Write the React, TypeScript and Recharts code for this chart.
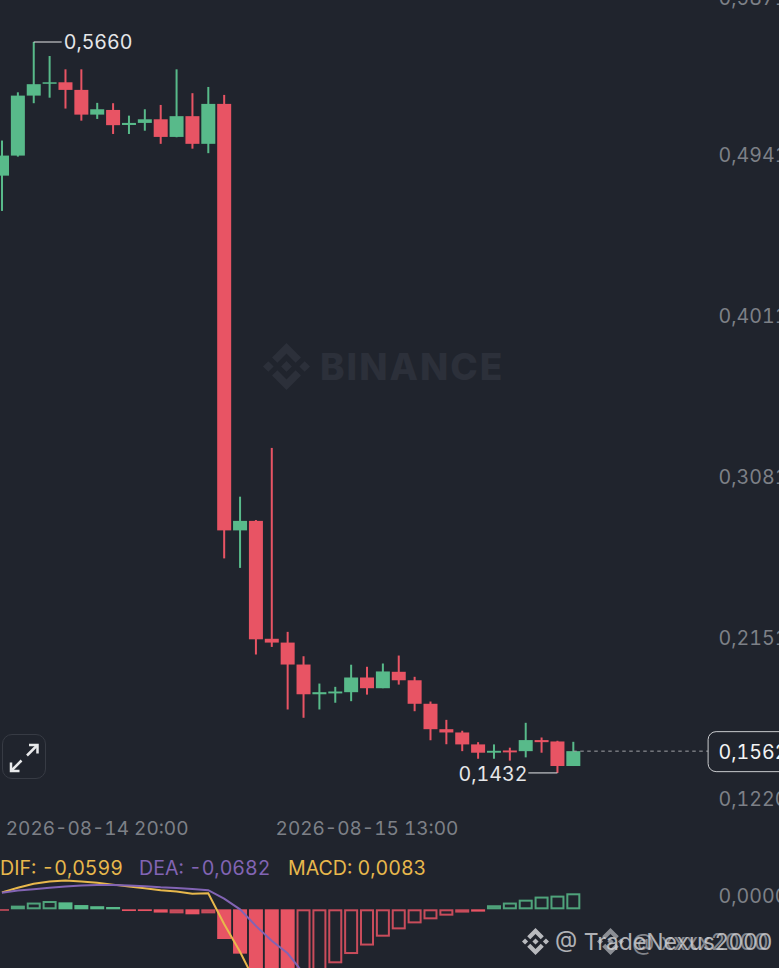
import React from 'react';
import { Bar, ComposedChart, Line, ReferenceDot, ReferenceLine, XAxis, YAxis } from 'recharts';

const times = [
  '2026-08-14 14:00', '2026-08-14 15:00', '2026-08-14 16:00', '2026-08-14 17:00', '2026-08-14 18:00',
  '2026-08-14 19:00', '2026-08-14 20:00', '2026-08-14 21:00', '2026-08-14 22:00', '2026-08-14 23:00',
  '2026-08-15 00:00', '2026-08-15 01:00', '2026-08-15 02:00', '2026-08-15 03:00', '2026-08-15 04:00',
  '2026-08-15 05:00', '2026-08-15 06:00', '2026-08-15 07:00', '2026-08-15 08:00', '2026-08-15 09:00',
  '2026-08-15 10:00', '2026-08-15 11:00', '2026-08-15 12:00', '2026-08-15 13:00', '2026-08-15 14:00',
  '2026-08-15 15:00', '2026-08-15 16:00', '2026-08-15 17:00', '2026-08-15 18:00', '2026-08-15 19:00',
  '2026-08-15 20:00', '2026-08-15 21:00', '2026-08-15 22:00', '2026-08-15 23:00', '2026-08-16 00:00',
  '2026-08-16 01:00', '2026-08-16 02:00', '2026-08-16 03:00', '2026-08-16 04:00', '2026-08-16 05:00',
  '2026-08-16 06:00', '2026-08-16 07:00', '2026-08-16 08:00', '2026-08-16 09:00', '2026-08-16 10:00',
  '2026-08-16 11:00', '2026-08-16 12:00', '2026-08-16 13:00', '2026-08-16 14:00', '2026-08-16 15:00',
];

const opens = [
  0.4887, 0.5003, 0.535, 0.5419, 0.5427, 0.5383, 0.524, 0.5267, 0.518, 0.5192, 0.5213, 0.5111, 0.5231,
  0.5071, 0.5302, 0.2835, 0.289, 0.2208, 0.2186, 0.2059, 0.1887, 0.1892, 0.1899, 0.1984, 0.1922, 0.2017,
  0.1968, 0.1832, 0.1685, 0.1666, 0.1597, 0.1549, 0.1562, 0.1558, 0.1622, 0.1614, 0.1472,
];
const closes = [
  0.5003, 0.535, 0.5416, 0.5427, 0.5383, 0.524, 0.5271, 0.5179, 0.5192, 0.5213, 0.5111, 0.5231, 0.5071,
  0.5302, 0.2835, 0.289, 0.2205, 0.2186, 0.2059, 0.1887, 0.1899, 0.1903, 0.1984, 0.1922, 0.2019, 0.1968,
  0.1832, 0.1685, 0.1666, 0.1597, 0.1549, 0.156, 0.1551, 0.1622, 0.161, 0.1472, 0.1558,
];
const highs = [
  0.509, 0.5369, 0.566, 0.5579, 0.5502, 0.5502, 0.5308, 0.5306, 0.5234, 0.5271, 0.5296, 0.5502, 0.5364,
  0.54, 0.5354, 0.303, 0.2895, 0.3312, 0.2248, 0.2107, 0.1949, 0.193, 0.2058, 0.2046, 0.2065, 0.2111,
  0.1988, 0.1845, 0.1739, 0.1676, 0.161, 0.1597, 0.1578, 0.1722, 0.1637, 0.1618, 0.1612,
];
const lows = [
  0.4683, 0.4997, 0.5306, 0.5338, 0.5275, 0.5205, 0.5215, 0.5128, 0.5128, 0.5147, 0.5071, 0.5109, 0.5043,
  0.5017, 0.2673, 0.2618, 0.2117, 0.2161, 0.1799, 0.1751, 0.1799, 0.1838, 0.1847, 0.1885, 0.1922, 0.1943,
  0.1789, 0.1621, 0.1598, 0.1558, 0.1514, 0.1514, 0.1503, 0.1522, 0.1549, 0.1432, 0.1472,
];

const dif = [
  0.0088, 0.0112, 0.0133, 0.0144, 0.0149, 0.0144, 0.0138, 0.0128, 0.0118, 0.0109, 0.0099, 0.0092, 0.0081,
  0.0083, -0.0076, -0.022, -0.0384, -0.052, -0.063, -0.069, -0.073, -0.075, -0.0745, -0.0735, -0.0725,
  -0.0715, -0.0705, -0.0695, -0.069, -0.0685, -0.068, -0.0668, -0.0655, -0.064, -0.0625, -0.0612, -0.0599,
];
const dea = [
  0.0086, 0.0097, 0.0104, 0.0112, 0.0118, 0.0123, 0.0126, 0.0126, 0.0124, 0.0119, 0.0114, 0.0111, 0.0105,
  0.0099, 0.0055, 0, -0.0086, -0.0163, -0.0228, -0.0332, -0.041, -0.047, -0.052, -0.056, -0.059, -0.062,
  -0.064, -0.066, -0.067, -0.0675, -0.068, -0.0685, -0.069, -0.069, -0.0688, -0.0685, -0.0682,
];
const hist = [
  -0.0007, 0.0019, 0.0035, 0.0043, 0.0036, 0.0022, 0.0016, 0.0012, -0.0009, -0.0009, -0.0017, -0.0021, -0.0026,
  -0.0021, -0.0154, -0.023, -0.035, -0.038, -0.0395, -0.036, -0.032, -0.028, -0.0232, -0.0188, -0.0142, -0.0104,
  -0.0073, -0.0052, -0.0033, -0.0017, -0.0012, 0.0021, 0.0035, 0.005, 0.0066, 0.0071, 0.0083,
];
const histHollow = [
  false, true, true, true, false, false, false, false, false, false, false, true, false,
  true, false, false, false, false, false, true, true, true, true, true, true, true,
  true, true, true, true, false, true, true, true, true, true, true,
];

const priceTicks = [0.122, 0.2151, 0.3081, 0.4011, 0.4941, 0.5871];
const timeTicks = ['2026-08-14 20:00', '2026-08-15 13:00'];
const macdTicks = [0];
const legendItems = [
  { text: 'DIF: -0,0599', color: '#e8b84c', left: 0 },
  { text: 'DEA: -0,0682', color: '#8264b4', left: 139 },
  { text: 'MACD: 0,0083', color: '#e8b84c', left: 288 },
];

const BG = '#20242d';
const GREEN = '#58ba8a';
const RED = '#e85464';
const FONT = 'Inter, sans-serif';
const TEXT_SIZE = 19.6;
const LOGO =
  'M38.73 53.2l24.59-24.58 24.6 24.6 14.3-14.31L63.32 0 24.42 38.9l14.31 14.3z M0 63.31l14.3-14.31 14.31 14.31-14.31 14.3z M38.73 73.41l24.59 24.59 24.6-24.6 14.31 14.29-38.9 38.91-38.91-38.88-.02-.02 14.33-14.29z M98 63.31l14.3-14.31 14.31 14.3-14.31 14.32z M77.83 63.3L63.32 48.78 52.59 59.51l-1.24 1.23-2.54 2.54 14.51 14.5 14.51-14.47z';

// band start sits left of the page so that the first candle is cut off
const CHART_LEFT = -5.6;
const CHART_WIDTH = 793.5;
const LABEL_X = 719 - CHART_LEFT;
const tabular = { fontVariantNumeric: 'tabular-nums' };

const candleRows = times.map((time, i) => ({
  time,
  open: opens[i] ?? null,
  close: closes[i] ?? null,
  high: highs[i] ?? null,
  low: lows[i] ?? null,
}));

const macdRows = times.map((time, i) => ({
  time,
  dif: dif[i] ?? null,
  dea: dea[i] ?? null,
  hist: hist[i] ?? null,
  hollow: histHollow[i] ?? false,
}));

const fmt = (v: number) => v.toFixed(4).replace('.', ',');

const Candle = (props: any) => {
  const { x, y, width, height, payload } = props;
  if (payload.high == null) return null;
  const { open, close, high, low } = payload;
  const color = close >= open ? GREEN : RED;
  const k = height / (high - low);
  const top = y + (high - Math.max(open, close)) * k;
  const h = Math.max(Math.abs(open - close) * k, 1.5);
  return (
    <g>
      <rect x={x + width / 2 - 1} y={y} width={2} height={height} fill={color} />
      <rect x={x} y={top} width={width} height={h} fill={color} />
    </g>
  );
};

const HistBar = (props: any) => {
  const { x, y, width, height, payload } = props;
  if (payload.hist == null) return null;
  const color = payload.hist >= 0 ? GREEN : RED;
  const top = height < 0 ? y + height : y;
  const h = Math.abs(height);
  if (payload.hollow) {
    return (
      <rect x={x + 1} y={top + 1} width={width - 2} height={Math.max(h - 2, 0.5)} fill="none" stroke={color} strokeWidth={2} opacity={0.85} />
    );
  }
  return <rect x={x} y={top} width={width} height={h} fill={color} />;
};

const PriceLabel = (props: any) => {
  const { y, payload } = props;
  return (
    <text x={LABEL_X} y={y - 11} fill="#7d8087" fontSize={TEXT_SIZE} fontFamily={FONT} style={tabular} dominantBaseline="central">
      {fmt(payload.value)}
    </text>
  );
};

const MacdLabel = (props: any) => {
  const { y, payload } = props;
  return (
    <text x={LABEL_X} y={y - 13} fill="#7d8087" fontSize={TEXT_SIZE} fontFamily={FONT} style={tabular} dominantBaseline="central">
      {fmt(payload.value)}
    </text>
  );
};

const TimeLabel = (props: any) => {
  const { x, y, payload } = props;
  return (
    <text x={x} y={y + 10} fill="#7d8087" fontSize={19} fontFamily={FONT} style={tabular} textAnchor="middle" dominantBaseline="central">
      {payload.value}
    </text>
  );
};

const HighMark = (props: any) => {
  const { cx, cy } = props;
  return (
    <g>
      <line x1={cx} y1={cy} x2={cx + 28} y2={cy} stroke="#e6e7e9" strokeWidth={1} />
      <text x={cx + 30} y={cy} fill="#e6e7e9" fontSize={TEXT_SIZE} fontFamily={FONT} style={tabular} dominantBaseline="central">
        0,5660
      </text>
    </g>
  );
};

const LowMark = (props: any) => {
  const { cx, cy } = props;
  return (
    <g>
      <line x1={cx} y1={cy} x2={cx - 29} y2={cy} stroke="#e6e7e9" strokeWidth={1} />
      <text x={cx - 30} y={cy + 1.5} fill="#e6e7e9" fontSize={TEXT_SIZE} fontFamily={FONT} style={tabular} textAnchor="end" dominantBaseline="central">
        0,1432
      </text>
    </g>
  );
};

const LastPrice = (props: any) => {
  const { cy } = props;
  return (
    <g>
      <rect x={LABEL_X - 10.5} y={cy - 19.5} width={120} height={40} rx={8} fill={BG} stroke="#c9cbce" strokeWidth={1} />
      <text x={LABEL_X} y={cy + 1} fill="#f2f3f4" fontSize={TEXT_SIZE} fontFamily={FONT} style={tabular} dominantBaseline="central">
        0,1562
      </text>
    </g>
  );
};

const Logo = ({ x, y, size, fill, opacity }: any) => (
  <svg width={size} height={size} viewBox="0 0 126.61 126.61" style={{ position: 'absolute', left: x, top: y }}>
    <path d={LOGO} fill={fill} opacity={opacity} />
  </svg>
);

const ExpandButton = () => (
  <div
    style={{
      position: 'absolute', left: 2, top: 734, width: 42, height: 43, borderRadius: 10,
      border: '1.5px solid #373b44', background: BG,
    }}
  >
    <svg width={42} height={43} viewBox="2 734 42 43" style={{ display: 'block' }}>
      <g stroke="#e8e9eb" strokeWidth={2.5} fill="none">
        <path d="M28 744h8.5v8.5" />
        <path d="M36 744.5L26 754.5" />
        <path d="M10 761.5v8.5h8.5" />
        <path d="M10.5 769.5L20.5 759.5" />
      </g>
    </svg>
  </div>
);

const App = () => {
  return (
    <div style={{ position: 'fixed', left: 0, top: 0, width: 779, height: 968, overflow: 'hidden', background: BG, fontFamily: FONT }}>
      <Logo x={263} y={343} size={47} fill="#2c303a" />
      <div style={{ position: 'absolute', left: 320, top: 343, fontSize: 37, lineHeight: '47px', fontWeight: 800, letterSpacing: 2, color: '#2c303a' }}>
        BINANCE
      </div>

      <div style={{ position: 'absolute', left: CHART_LEFT, top: 0 }}>
        <ComposedChart width={CHART_WIDTH} height={842} data={candleRows} margin={{ top: 0, right: 0, bottom: 0, left: 0 }} barGap={0}>
          <XAxis
            dataKey="time"
            ticks={timeTicks}
            interval={0}
            axisLine={false}
            tickLine={false}
            height={30}
            tickMargin={0}
            tick={<TimeLabel />}
          />
          <YAxis
            orientation="right"
            mirror
            domain={[0.1206, 0.5903]}
            ticks={priceTicks}
            axisLine={false}
            tickLine={false}
            tick={<PriceLabel />}
          />
          <Bar dataKey={(d: any) => (d.high == null ? null : [d.low, d.high])} barSize={14} shape={<Candle />} isAnimationActive={false} />
          <ReferenceLine
            segment={[{ x: times[36], y: closes[36] }, { x: times[45], y: closes[36] }]}
            stroke="#a0a2a6"
            strokeWidth={1}
            strokeDasharray="3.5 3.5"
          />
          <ReferenceDot x={times[2]} y={highs[2]} shape={<HighMark />} />
          <ReferenceDot x={times[35]} y={lows[35]} shape={<LowMark />} />
          <ReferenceDot x={times[45]} y={closes[36]} shape={<LastPrice />} />
        </ComposedChart>
      </div>

      <ExpandButton />

      {legendItems.map((item) => (
        <div key={item.text} style={{ position: 'absolute', left: item.left, top: 856, fontSize: TEXT_SIZE, lineHeight: '24px', whiteSpace: 'nowrap', color: item.color, ...tabular }}>
          {item.text}
        </div>
      ))}

      <div style={{ position: 'absolute', left: CHART_LEFT, top: 860 }}>
        <ComposedChart width={CHART_WIDTH} height={310} data={macdRows} margin={{ top: 0, right: 0, bottom: 0, left: 0 }}>
          <XAxis dataKey="time" hide />
          <YAxis
            orientation="right"
            mirror
            domain={[-0.1352, 0.02557]}
            ticks={macdTicks}
            axisLine={false}
            tickLine={false}
            tick={<MacdLabel />}
          />
          <Bar dataKey="hist" barSize={14} shape={<HistBar />} isAnimationActive={false} />
          <Line dataKey="dif" stroke="#e8b84c" strokeWidth={2} dot={false} isAnimationActive={false} />
          <Line dataKey="dea" stroke="#8264b4" strokeWidth={2} dot={false} isAnimationActive={false} />
        </ComposedChart>
      </div>

      <Logo x={522} y={927.5} size={27} fill="#d4d5d8" opacity={0.85} />
      <div style={{ position: 'absolute', left: 555, top: 928, fontSize: 23, lineHeight: '28px', color: '#d4d5d8', opacity: 0.8, whiteSpace: 'nowrap' }}>
        @ TradeNexus2000
      </div>
      <Logo x={597} y={927.5} size={27} fill="#d4d5d8" opacity={0.6} />
      <div style={{ position: 'absolute', left: 632, top: 928, fontSize: 23, lineHeight: '28px', color: '#d4d5d8', opacity: 0.55, whiteSpace: 'nowrap' }}>
        @ xxxx2000
      </div>
    </div>
  );
};

export default App;
